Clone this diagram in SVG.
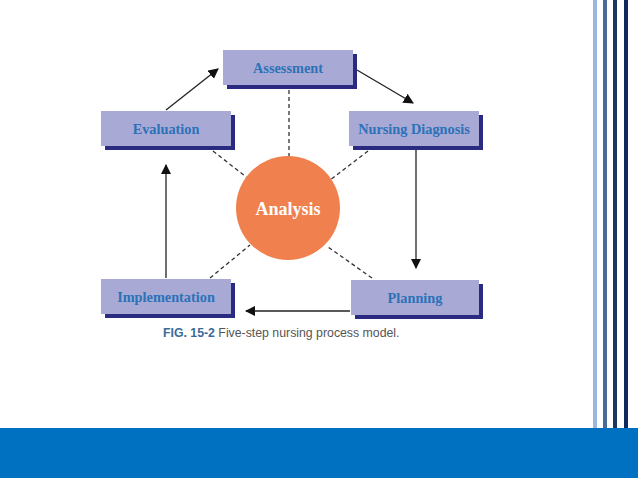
<svg xmlns="http://www.w3.org/2000/svg" width="638" height="478" viewBox="0 0 638 478">
<style>
.box{fill:#a9a9d6}
.sh{fill:#2a2a80}
.lbl{font-family:"Liberation Serif",serif;font-weight:bold;font-size:14.3px;fill:#2b72b8;text-anchor:middle}
.ar{stroke:#222;stroke-width:1.3;fill:none;marker-end:url(#ah)}
.da{stroke:#333;stroke-width:1.3;stroke-dasharray:4,3;fill:none}
</style>
<defs><marker id="ah" viewBox="0 0 10 10" refX="9" refY="5" markerWidth="8" markerHeight="8" orient="auto"><path d="M0,0L10,5L0,10z" fill="#111"/></marker></defs>
<rect width="638" height="478" fill="#fff"/>
<g id="decor">
<rect x="593" y="0" width="4" height="428" fill="#9ab8dc"/>
<rect x="603" y="0" width="4" height="428" fill="#4a6a98"/>
<rect x="613" y="0" width="4" height="428" fill="#1c3660"/>
<rect x="624" y="0" width="4" height="428" fill="#10285c"/>
<rect x="0" y="428" width="638" height="50" fill="#0070c0"/>
</g>
<g id="connectors">
<line class="ar" x1="166" y1="110" x2="218" y2="69"/>
<line class="ar" x1="357" y1="70" x2="413" y2="103"/>
<line class="ar" x1="416" y1="150" x2="416" y2="268"/>
<line class="ar" x1="350" y1="311" x2="246" y2="311"/>
<line class="ar" x1="166" y1="278" x2="166" y2="165"/>
<line class="da" x1="289" y1="90" x2="289" y2="157"/>
<line class="da" x1="213" y1="151" x2="250" y2="180"/>
<line class="da" x1="368" y1="151" x2="330" y2="180"/>
<line class="da" x1="210" y1="278" x2="250" y2="245"/>
<line class="da" x1="372" y1="278" x2="328" y2="247"/>
</g>
<g id="assessment"><rect class="sh" x="227" y="54" width="130" height="35"/><rect class="box" x="223" y="50" width="130" height="35"/><text class="lbl" x="288" y="73">Assessment</text></g>
<g id="evaluation"><rect class="sh" x="105" y="115" width="130" height="35"/><rect class="box" x="101" y="111" width="130" height="35"/><text class="lbl" x="166" y="134">Evaluation</text></g>
<g id="diagnosis"><rect class="sh" x="353" y="115" width="130" height="35"/><rect class="box" x="349" y="111" width="130" height="35"/><text class="lbl" x="414" y="134">Nursing Diagnosis</text></g>
<g id="implementation"><rect class="sh" x="105" y="283" width="130" height="35"/><rect class="box" x="101" y="279" width="130" height="35"/><text class="lbl" x="166" y="302">Implementation</text></g>
<g id="planning"><rect class="sh" x="355" y="284" width="128" height="35"/><rect class="box" x="351" y="280" width="128" height="35"/><text class="lbl" x="415" y="303">Planning</text></g>
<g id="analysis"><circle cx="288" cy="208" r="52" fill="#f0804e"/><text x="288" y="215" font-family="Liberation Serif,serif" font-weight="bold" font-size="18" fill="#fff" text-anchor="middle">Analysis</text></g>
<text x="163" y="337" font-family="Liberation Sans,sans-serif" font-size="12.3" fill="#555"><tspan font-weight="bold" fill="#3a6a9a">FIG. 15-2</tspan> Five-step nursing process model.</text>
</svg>
